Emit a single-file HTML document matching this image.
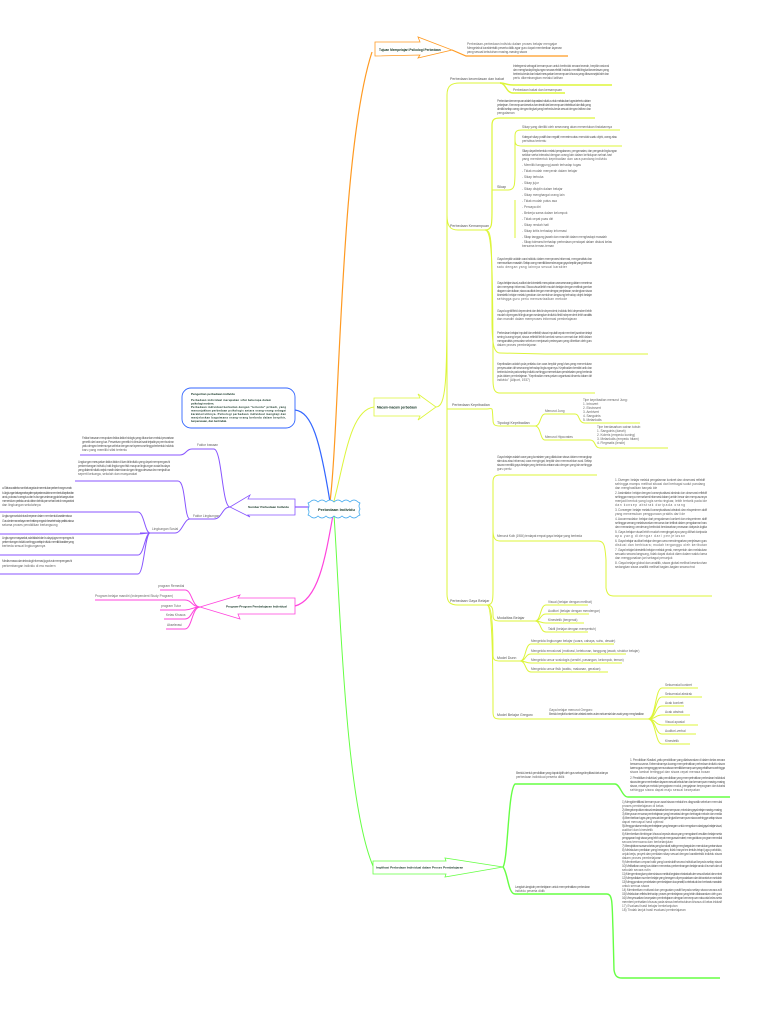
<!DOCTYPE html>
<html><head><meta charset="utf-8"><style>
html,body{margin:0;padding:0;background:#fff;width:768px;height:1024px;overflow:hidden}
svg{display:block}
text{font-family:"Liberation Sans",sans-serif}
.t{font-size:3.2px;fill:#666}
.l{font-size:3.6px;fill:#555}
.b{font-weight:bold;fill:#113322}
</style></head><body>
<svg width="768" height="1024" viewBox="0 0 768 1024" xmlns="http://www.w3.org/2000/svg" fill="none">
<!-- ORANGE -->
<g stroke="#ff9a22" stroke-width="1.2">
<path d="M330 502 C340 420 340 150 372 52"/>
<path d="M452 50 L466 56 L568 56"/>
</g>
<path d="M375 42 L420 42 L418 37 L452 50 L418 58 L420 55 L375 56 Z" fill="#fff" stroke="#ff9a22" stroke-width="0.8"/>
<text class="b" x="379" y="51" style="font-size:3.2px">Tujuan Mempelajari Psikologi Perbedaan</text>
<text class="t" x="467" y="45" textLength="90">Perbedaan-perbedaan individu dalam proses belajar mengajar</text>
<text class="t" x="467" y="49" textLength="95">Mengetahui karakteristik peserta didik agar guru dapat memberikan layanan</text>
<text class="t" x="467" y="53" textLength="60">yang sesuai kebutuhan masing-masing siswa</text>

<!-- YELLOW -->
<g stroke="#ddf53a" stroke-width="1">
<path d="M333 505 C345 460 350 410 374 407"/>
<path d="M436 407 C446 407 447 380 447 300 L447 95 C447 85 452 83 460 83 L500 83"/>
<path d="M500 83 C506 83 506 85 513 85 L612 85" stroke-width="1.4"/>
<path d="M500 83 C506 83 506 93 513 93 L565 93" stroke-width="1.4"/>
<path d="M447 300 L447 594 C447 602 450 605 458 605 L487 605"/>
<path d="M447 215 C447 226 450 230 458 230 L485 230"/>
<path d="M485 230 C492 230 492 225 492 210 L492 125 C492 119 495 118 500 118 L595 118" stroke-width="1.2"/>
<path d="M485 230 C492 230 492 240 492 320 C492 345 494 353 500 353 L545 354 L648 354"/>
<path d="M485 230 C492 230 493 260 493 380 C493 390 495 393 500 393 L595 393"/>
<path d="M492 190 L508 190 C515 190 515 185 515 170 L515 136 C515 131 517 130 522 130 L620 130"/>
<path d="M515 140 C515 145 517 146 522 146 L622 146"/>
<path d="M515 200 L515 238"/>
<path d="M447 409 L487 409"/>
<path d="M487 409 C493 409 492 405 493 420 C493 425 495 426 500 426 L535 426"/>
<path d="M535 426 C541 426 540 414 545 414 L575 414 C580 414 578 423 585 423 L640 423"/>
<path d="M535 426 C541 426 540 440 545 440 L590 440 C596 440 594 448 600 448 L668 448"/>
<path d="M487 605 C493 605 493 600 493 590 L493 482 C493 477 495 475 500 475 L597 475"/>
<path d="M493 530 C493 538 495 541 500 541 L598 541 C604 541 605 545 606 560 L606 588 C607 594 609 596 614 596 L712 596"/>
<path d="M487 605 C493 605 493 610 493 615 C493 620 495 621 500 621 L535 621"/>
<path d="M535 621 C541 621 540 605 546 605 L588 605 M535 621 C541 621 540 614 546 614 L589 614 M535 621 C541 621 540 623 546 623 L584 623 M535 621 C541 621 540 632 546 632 L588 632"/>
<path d="M487 605 C493 605 493 640 493 655 C493 660 495 661 500 661 L520 661"/>
<path d="M520 661 C526 661 525 644 531 644 L614 644 M520 661 C526 661 525 654 531 654 L626 654 M520 661 C526 661 525 663 531 663 L622 663 M520 661 C526 661 525 672 531 672 L608 672"/>
<path d="M487 605 C493 605 493 680 493 712 C493 718 495 719 500 719 L648 719"/>
<path d="M648 719 C656 719 655 688 662 688 L698 688 M648 719 C656 719 655 697 662 697 L702 697 M648 719 C656 719 655 706 662 706 L684 706 M648 719 C656 719 655 715 662 715 L690 715 M648 719 C656 719 655 725 662 725 L698 725 M648 719 C656 719 655 734 662 734 L696 734 M648 719 C656 719 655 744 662 744 L690 744"/>
</g>
<path d="M374 398 L420 398 L418 394 L436 407 L418 420 L420 416 L374 416 Z" fill="#fff" stroke="#ddf53a" stroke-width="0.8"/>
<text class="b" x="377" y="408.5" style="font-size:3.2px">Macam-macam perbedaan</text>
<text class="l" x="450" y="80">Perbedaan kecerdasan dan bakat</text>
<text class="t" x="513" y="67" textLength="96">Intelegensi sebagai kemampuan untuk bertindak secara terarah, berpikir rasional</text>
<text class="t" x="513" y="71" textLength="96">dan menghadapi lingkungan secara efektif. Individu memiliki tingkat kecerdasan yang</text>
<text class="t" x="513" y="75" textLength="96">berbeda-beda dan bakat merupakan kemampuan khusus yang dibawa sejak lahir dan</text>
<text class="t" x="513" y="79">perlu dikembangkan melalui latihan</text>
<text class="t" x="513" y="91">Perbedaan bakat dan kemampuan</text>
<text class="t" x="497" y="102" textLength="94">Perbedaan kemampuan adalah kapasitas individu untuk melakukan tugas tertentu dalam</text>
<text class="t" x="497" y="106" textLength="94">pekerjaan. Kemampuan keseluruhan terdiri dari kemampuan intelektual dan fisik yang</text>
<text class="t" x="497" y="110" textLength="94">dimiliki setiap orang dengan tingkat yang berbeda-beda sesuai dengan latihan dan</text>
<text class="t" x="497" y="114">pengalaman</text>
<text class="l" x="450" y="227">Perbedaan Kemampuan</text>
<text class="l" x="497" y="188">Sikap</text>
<text class="t" x="522" y="128" textLength="90">Sikap yang dimiliki oleh seseorang akan menentukan tindakannya</text>
<text class="t" x="522" y="138" textLength="95">Kategori sikap positif dan negatif; menerima atau menolak suatu objek, orang atau</text>
<text class="t" x="522" y="142">peristiwa tertentu</text>
<g class="t">
<text x="522" y="152" textLength="95">Sikap dapat terbentuk melalui pengalaman, pengamatan, dan pengaruh lingkungan</text>
<text x="522" y="156" textLength="90">sekitar serta interaksi dengan orang lain dalam kehidupan sehari-hari</text>
<text x="522" y="160" textLength="85">yang membentuk kepribadian dan cara pandang individu</text>
<text x="522" y="166">- Memiliki tanggung jawab terhadap tugas</text>
<text x="522" y="172">- Tidak mudah menyerah dalam belajar</text>
<text x="522" y="178">- Sikap terbuka</text>
<text x="522" y="184">- Sikap jujur</text>
<text x="522" y="190">- Sikap disiplin dalam belajar</text>
<text x="522" y="196">- Sikap menghargai orang lain</text>
<text x="522" y="202">- Tidak mudah putus asa</text>
<text x="522" y="208">- Percaya diri</text>
<text x="522" y="214">- Bekerja sama dalam kelompok</text>
<text x="522" y="220">- Tidak cepat puas diri</text>
<text x="522" y="226">- Sikap rendah hati</text>
<text x="522" y="232">- Sikap kritis terhadap informasi</text>
<text x="522" y="238" textLength="85">- Sikap tanggung jawab dan mandiri dalam menghadapi masalah</text>
<text x="522" y="243" textLength="90">- Sikap toleransi terhadap perbedaan pendapat dalam diskusi kelas</text>
<text x="522" y="247">bersama teman-teman</text>
</g>
<g class="t">
<text x="497" y="260" textLength="95">Gaya berpikir adalah cara individu dalam memproses informasi, menganalisis dan</text>
<text x="497" y="264" textLength="95">memecahkan masalah. Setiap orang memiliki kecenderungan gaya berpikir yang berbeda</text>
<text x="497" y="268" textLength="70">satu dengan yang lainnya sesuai karakter</text>
<text x="497" y="284" textLength="95">Gaya belajar visual, auditori dan kinestetik merupakan cara seseorang dalam menerima</text>
<text x="497" y="288" textLength="95">dan menyerap informasi. Siswa visual lebih mudah belajar dengan melihat gambar</text>
<text x="497" y="292" textLength="95">diagram dan tulisan; siswa auditori dengan mendengar penjelasan; sedangkan siswa</text>
<text x="497" y="296" textLength="95">kinestetik belajar melalui gerakan dan sentuhan langsung terhadap objek belajar</text>
<text x="497" y="300" textLength="70">sehingga guru perlu memvariasikan metode</text>
<text x="497" y="312" textLength="95">Gaya kognitif field dependent dan field independent; individu field dependent lebih</text>
<text x="497" y="316" textLength="95">mudah dipengaruhi lingkungan sedangkan individu field independent lebih analitis</text>
<text x="497" y="320" textLength="80">dan mandiri dalam memproses informasi pembelajaran</text>
<text x="497" y="334" textLength="95">Perbedaan belajar impulsif dan reflektif; siswa impulsif cepat memberi jawaban tetapi</text>
<text x="497" y="338" textLength="95">sering kurang tepat, siswa reflektif lebih lambat namun cermat dan teliti dalam</text>
<text x="497" y="342" textLength="95">menganalisis persoalan sebelum menjawab pertanyaan yang diberikan oleh guru</text>
<text x="497" y="346">dalam proses pembelajaran</text>
<text x="497" y="365" textLength="95">Kepribadian adalah pola perilaku dan cara berpikir yang khas yang menentukan</text>
<text x="497" y="369" textLength="95">penyesuaian diri seseorang terhadap lingkungannya. Kepribadian bersifat unik dan</text>
<text x="497" y="373" textLength="95">berbeda-beda pada setiap individu sehingga memerlukan pendekatan yang berbeda</text>
<text x="497" y="377" textLength="95">pula dalam pembelajaran. "Kepribadian merupakan organisasi dinamis dalam diri</text>
<text x="497" y="381">individu" (Allport, 1937)</text>
</g>
<text class="l" x="452" y="406">Perbedaan Kepribadian</text>
<text class="l" x="497" y="424">Tipologi Kepribadian</text>
<text class="t" x="545" y="412">Menurut Jung</text>
<text class="t" x="545" y="438">Menurut Hipocrates</text>
<g class="t">
<text x="583" y="401">Tipe kepribadian menurut Jung:</text>
<text x="583" y="405">1. Introvert</text><text x="583" y="409">2. Ekstrovert</text>
<text x="583" y="413">3. Ambivert</text><text x="583" y="417">4. Sanguinis</text><text x="583" y="421">5. Melankolis</text>
<text x="597" y="428">Tipe berdasarkan cairan tubuh:</text>
<text x="597" y="432">1. Sanguinis (darah)</text><text x="597" y="436">2. Koleris (empedu kuning)</text>
<text x="597" y="440">3. Melankolis (empedu hitam)</text><text x="597" y="444">4. Flegmatis (lendir)</text>
</g>
<g class="t">
<text x="497" y="458" textLength="95">Gaya belajar adalah cara yang konsisten yang dilakukan siswa dalam menangkap</text>
<text x="497" y="462" textLength="95">stimulus atau informasi, cara mengingat, berpikir dan memecahkan soal. Setiap</text>
<text x="497" y="466" textLength="95">siswa memiliki gaya belajar yang berbeda antara satu dengan yang lain sehingga</text>
<text x="497" y="470">guru perlu</text>
<text x="497" y="537" textLength="85">Menurut Kolb (1984) terdapat empat gaya belajar yang berbeda</text>
</g>
<g class="t">
<text x="615" y="481" textLength="90">1. Diverger: belajar melalui pengalaman konkret dan observasi reflektif</text>
<text x="615" y="485" textLength="90">sehingga mampu melihat situasi dari berbagai sudut pandang</text>
<text x="615" y="489">dan menghasilkan banyak ide</text>
<text x="615" y="494" textLength="92">2. Assimilator: belajar dengan konseptualisasi abstrak dan observasi reflektif</text>
<text x="615" y="498" textLength="92">sehingga mampu memahami informasi dalam jumlah besar dan menyusunnya</text>
<text x="615" y="502" textLength="92">menjadi bentuk yang logis serta ringkas; lebih tertarik pada ide</text>
<text x="615" y="506" textLength="70">dan konsep abstrak daripada orang</text>
<text x="615" y="511" textLength="92">3. Converger: belajar melalui konseptualisasi abstrak dan eksperimen aktif</text>
<text x="615" y="515" textLength="70">yang menemukan penggunaan praktis dari ide</text>
<text x="615" y="520" textLength="92">4. Accommodator: belajar dari pengalaman konkret dan eksperimen aktif</text>
<text x="615" y="524" textLength="92">sehingga senang melaksanakan rencana dan terlibat dalam pengalaman baru</text>
<text x="615" y="528" textLength="92">dan menantang; cenderung bertindak berdasarkan perasaan daripada logika</text>
<text x="615" y="533" textLength="92">5. Gaya belajar visual lebih mudah mengingat apa yang dilihat daripada</text>
<text x="615" y="537" textLength="70">apa yang didengar dari penjelasan</text>
<text x="615" y="542" textLength="92">6. Gaya belajar auditori belajar dengan cara mendengarkan penjelasan guru</text>
<text x="615" y="546" textLength="92">diskusi dan berbicara; mudah terganggu oleh keributan</text>
<text x="615" y="551" textLength="92">7. Gaya belajar kinestetik belajar melalui gerak, menyentuh dan melakukan</text>
<text x="615" y="555" textLength="92">sesuatu secara langsung, tidak dapat duduk diam dalam waktu lama</text>
<text x="615" y="559">dan menggunakan jari sebagai penunjuk</text>
<text x="615" y="564" textLength="92">8. Gaya belajar global dan analitik, siswa global melihat keseluruhan</text>
<text x="615" y="568" textLength="80">sedangkan siswa analitik melihat bagian-bagian secara rinci</text>
</g>
<text class="l" x="450" y="602">Perbedaan Gaya Belajar</text>
<text class="l" x="497" y="619">Modalitas Belajar</text>
<text class="t" x="548" y="603">Visual (belajar dengan melihat)</text>
<text class="t" x="548" y="612">Auditori (belajar dengan mendengar)</text>
<text class="t" x="548" y="621">Kinestetik (bergerak)</text>
<text class="t" x="548" y="630">Taktil (belajar dengan menyentuh)</text>
<text class="l" x="497" y="659">Model Dunn</text>
<text class="t" x="531" y="642">Mengelola lingkungan belajar (suara, cahaya, suhu, desain)</text>
<text class="t" x="531" y="652">Mengelola emosional (motivasi, ketekunan, tanggung jawab, struktur belajar)</text>
<text class="t" x="531" y="661">Mengelola unsur sosiologis (sendiri, pasangan, kelompok, teman)</text>
<text class="t" x="531" y="670">Mengelola unsur fisik (waktu, makanan, gerakan)</text>
<text class="l" x="497" y="716">Model Belajar Gregorc</text>
<text class="t" x="549" y="711">Gaya belajar menurut Gregorc:</text>
<text class="t" x="549" y="715" textLength="95">Bentuk berpikir konkret dan abstrak serta urutan sekuensial dan acak yang menghasilkan</text>
<g class="t">
<text x="665" y="686">Sekuensial konkret</text><text x="665" y="695">Sekuensial abstrak</text>
<text x="665" y="704">Acak konkret</text><text x="665" y="713">Acak abstrak</text>
<text x="665" y="723">Visual-spasial</text><text x="665" y="732">Auditori-verbal</text><text x="665" y="742">Kinestetik</text>
</g>

<!-- GREEN -->
<g stroke="#66ff44" stroke-width="1">
<path d="M334 515 C340 600 345 800 373 866"/>
<path d="M503 867 C508 860 508 790 515 784 L615 784 C620 784 622 797 628 797 L730 797" stroke-width="1.4"/>
<path d="M503 867 C508 873 508 894 515 894 L607 894 C613 894 612 905 613 930 L614 970 C615 976 617 978 622 978 L720 978" stroke-width="1.4"/>
</g>
<path d="M373 861 L446 861 L445 858 L503 867 L445 877 L446 874 L373 874 Z" fill="#fff" stroke="#66ff44" stroke-width="0.8"/>
<text class="b" x="376" y="868.5" style="font-size:3.1px">Implikasi Perbedaan Individual dalam Proses Pembelajaran</text>
<text class="t" x="516" y="774" textLength="92">Bentuk-bentuk pendidikan yang dapat dipilih oleh guru sebagai implikasi dari adanya</text>
<text class="t" x="516" y="778">perbedaan individual peserta didik</text>
<text class="t" x="515" y="888" textLength="75">Langkah-langkah pembelajaran untuk memperhatikan perbedaan</text>
<text class="t" x="515" y="892">individu peserta didik</text>
<g class="t">
<text x="630" y="761" textLength="95">1. Pendidikan Klasikal, yaitu pendidikan yang dilaksanakan di dalam kelas secara</text>
<text x="630" y="765" textLength="95">bersama-sama. Kelemahannya kurang memperhatikan perbedaan individu siswa</text>
<text x="630" y="769" textLength="95">karena guru menganggap semua siswa memiliki kemampuan yang relatif sama sehingga</text>
<text x="630" y="773" textLength="80">siswa lambat tertinggal dan siswa cepat merasa bosan</text>
<text x="630" y="779" textLength="95">2. Pendidikan Individual, yaitu pendidikan yang memperhatikan perbedaan individual</text>
<text x="630" y="783" textLength="95">siswa dengan memberikan layanan sesuai kebutuhan dan kemampuan masing-masing</text>
<text x="630" y="787" textLength="95">siswa, misalnya melalui pengajaran modul, pengajaran berprogram dan tutorial</text>
<text x="630" y="791" textLength="70">sehingga siswa dapat maju sesuai kecepatan</text>
</g>
<g class="t">
<text x="622" y="803" textLength="100">1) Mengidentifikasi kemampuan awal siswa melalui tes diagnostik sebelum memulai</text>
<text x="622" y="807">proses pembelajaran di kelas</text>
<text x="622" y="811" textLength="100">2) Mengelompokkan siswa berdasarkan kemampuan, minat dan gaya belajar masing-masing</text>
<text x="622" y="815" textLength="100">3) Menyusun rencana pembelajaran yang bervariasi dengan berbagai metode dan media</text>
<text x="622" y="819" textLength="100">4) Memberikan tugas yang sesuai dengan tingkat kemampuan siswa sehingga setiap siswa</text>
<text x="622" y="823">dapat mencapai hasil optimal</text>
<text x="622" y="827" textLength="100">5) Menggunakan media pembelajaran yang beragam untuk mengakomodasi gaya belajar visual,</text>
<text x="622" y="831">auditori dan kinestetik</text>
<text x="622" y="835" textLength="100">6) Memberikan bimbingan khusus kepada siswa yang mengalami kesulitan belajar serta</text>
<text x="622" y="839" textLength="100">pengayaan bagi siswa yang lebih cepat menguasai materi; mengadakan program remedial</text>
<text x="622" y="843">secara terencana dan berkelanjutan</text>
<text x="622" y="847" textLength="100">7) Menciptakan suasana kelas yang kondusif, saling menghargai dan mendukung antar siswa</text>
<text x="622" y="851" textLength="100">8) Melakukan penilaian yang beragam, tidak hanya tes tertulis tetapi juga portofolio,</text>
<text x="622" y="855" textLength="100">unjuk kerja, proyek dan penilaian sikap sesuai dengan karakteristik individu siswa</text>
<text x="622" y="859">dalam proses pembelajaran</text>
<text x="622" y="863" textLength="100">9) Memberikan umpan balik yang konstruktif secara individual kepada setiap siswa</text>
<text x="622" y="867" textLength="100">10) Melibatkan orang tua dalam memantau perkembangan belajar anak di rumah dan di</text>
<text x="622" y="871">sekolah secara rutin</text>
<text x="622" y="875" textLength="100">11) Mengembangkan potensi siswa melalui kegiatan ekstrakurikuler sesuai bakat dan minat</text>
<text x="622" y="879" textLength="100">12) Menyediakan sumber belajar yang beragam di perpustakaan dan laboratorium sekolah</text>
<text x="622" y="883" textLength="100">13) Menggunakan pendekatan pembelajaran kooperatif, kontekstual dan berbasis masalah</text>
<text x="622" y="887">untuk semua siswa</text>
<text x="622" y="891" textLength="100">14) Memberikan motivasi dan penguatan positif kepada setiap siswa secara adil</text>
<text x="622" y="895" textLength="100">15) Melakukan refleksi terhadap proses pembelajaran yang telah dilaksanakan oleh guru</text>
<text x="622" y="899" textLength="100">16) Menyesuaikan kecepatan pembelajaran dengan kemampuan rata-rata kelas serta</text>
<text x="622" y="903" textLength="100">memberi perhatian khusus pada siswa berkebutuhan khusus di kelas inklusif</text>
<text x="622" y="907">17) Evaluasi hasil belajar berkelanjutan</text>
<text x="622" y="911">18) Tindak lanjut hasil evaluasi pembelajaran</text>
</g>

<!-- BLUE -->
<path d="M295 410 C312 412 320 440 330 502" stroke="#3366ff" stroke-width="1.2"/>
<rect x="182" y="388" width="113" height="40" rx="9" fill="#fff" stroke="#3366ff" stroke-width="0.9"/>
<text class="b" x="191" y="395" style="font-size:3px">Pengertian perbedaan individu</text>
<g class="b" style="font-size:2.7px">
<text x="191" y="401" textLength="80">Perbedaan individual merupakan sifat beberapa dalam</text>
<text x="191" y="404.5">psikologi modern.</text>
<text x="191" y="408" textLength="95">Perbedaan individual berkaitan dengan "tertentu" pribadi, yang</text>
<text x="191" y="411.5" textLength="95">menunjukkan perbedaan psikologis antara orang-orang sebagai</text>
<text x="191" y="415" textLength="95">karakteristiknya. Psikologi perbedaan individual mengkaji dan</text>
<text x="191" y="418.5" textLength="95">menjelaskan bagaimana orang-orang berbeda dalam berpikir,</text>
<text x="191" y="422">berperasaan, dan bertindak.</text>
</g>

<!-- PURPLE -->
<g stroke="#8855ff" stroke-width="1">
<path d="M295 507 L310 507" stroke-width="1.2"/>
<path d="M230 507 C222 507 222 450 214 449 L192 449 C186 449 186 455 180 455 L80 455"/>
<path d="M230 507 C222 507 222 519 214 519 L190 519"/>
<path d="M190 519 C184 519 186 481 178 481 L75 481"/>
<path d="M190 519 C184 519 182 533 175 533 L140 533"/>
<path d="M150 533 C145 533 144 512 138 512 L0 512"/>
<path d="M150 533 C145 533 145 534 138 534 L0 534"/>
<path d="M150 533 C145 533 144 555 138 555 L0 555"/>
<path d="M150 533 C145 533 144 574 138 574 L0 574"/>
</g>
<path d="M295 499 L248 499 L250 495 L230 507 L250 517 L248 515 L295 515 Z" fill="#fff" stroke="#8855ff" stroke-width="0.8"/>
<text class="b" x="248" y="508" style="font-size:3.1px">Sumber Perbedaan Individu</text>
<text class="t" x="197" y="446">Faktor bawaan</text>
<text class="t" x="193" y="517">Faktor Lingkungan</text>
<text class="t" x="152" y="530">Lingkungan Sosial</text>
<g class="t">
<text x="82" y="439" textLength="92">Faktor bawaan merupakan faktor-faktor biologis yang diturunkan melalui pewarisan</text>
<text x="82" y="443" textLength="92">genetik dari orang tua. Pewarisan genetik ini dimulai saat terjadinya pembuahan</text>
<text x="82" y="447" textLength="92">yaitu dengan bertemunya sel telur dengan sel sperma sehingga terbentuk individu</text>
<text x="82" y="451">baru yang memiliki sifat tertentu</text>
<text x="78" y="463" textLength="92">Lingkungan merupakan faktor-faktor di luar diri individu yang dapat mempengaruhi</text>
<text x="78" y="467" textLength="92">perkembangan individu, baik lingkungan fisik maupun lingkungan sosial budaya</text>
<text x="78" y="471" textLength="92">yang dialami individu sejak masih dalam kandungan hingga dewasa dan menjadi tua</text>
<text x="78" y="475">seperti keluarga, sekolah dan masyarakat</text>
<text x="2" y="489" textLength="70">a. Status sosial ekonomi keluarga turut menentukan perkembangan anak</text>
<text x="2" y="494" textLength="72">b. Lingkungan keluarga sebagai tempat pertama dalam membentuk kepribadian</text>
<text x="2" y="498" textLength="72">anak, pola asuh orang tua dan hubungan antar anggota keluarga akan</text>
<text x="2" y="502" textLength="72">menentukan perilaku anak dalam kehidupan sehari-hari di masyarakat</text>
<text x="2" y="506">dan lingkungan sekolahnya</text>
<text x="2" y="517" textLength="70">Lingkungan sekolah turut berperan dalam membentuk karakter siswa</text>
<text x="2" y="522" textLength="72">Guru dan teman sebaya memberikan pengaruh besar terhadap perilaku siswa</text>
<text x="2" y="526">selama proses pendidikan berlangsung</text>
<text x="2" y="539" textLength="72">Lingkungan masyarakat, adat istiadat dan budaya juga mempengaruhi</text>
<text x="2" y="543" textLength="72">perkembangan individu sehingga setiap individu memiliki karakter yang</text>
<text x="2" y="547">berbeda sesuai lingkungannya</text>
<text x="2" y="562" textLength="70">Media massa dan teknologi informasi juga turut mempengaruhi</text>
<text x="2" y="567">perkembangan individu di era modern</text>
</g>

<!-- MAGENTA -->
<g stroke="#ff44dd" stroke-width="1">
<path d="M295 606 C318 600 325 560 333 515" stroke-width="1.2"/>
<path d="M200 607 C192 607 192 590 185 590 L160 590"/>
<path d="M200 607 C192 607 192 600 185 600 L95 600"/>
<path d="M200 607 C192 607 192 610 185 610 L160 610"/>
<path d="M200 607 C192 607 192 619 185 619 L164 619"/>
<path d="M200 607 C192 607 192 629 185 629 L166 629"/>
</g>
<path d="M295 598 L238 598 L240 595 L200 607 L240 619 L238 614 L295 614 Z" fill="#fff" stroke="#ff44dd" stroke-width="0.8"/>
<text class="b" x="226" y="607.5" style="font-size:3px">Program-Program Pembelajaran Individual</text>
<g class="t">
<text x="158" y="587">program Remedial</text>
<text x="95" y="597" textLength="78">Program belajar mandiri (Independent Study Program)</text>
<text x="161" y="607">program Tutor</text>
<text x="166" y="616">Kelas Khusus</text>
<text x="167" y="626">Akselerasi</text>
</g>

<!-- CENTER -->
<path d="M310 502 q4 -4 8 0 q4 -4 8 0 q4 -4 8 0 q4 -4 8 0 q4 -4 8 0 q4 -4 8 0 l2 1 q-2 3 0 6 q-2 3 0 6 l-2 1 q-4 4 -8 0 q-4 4 -8 0 q-4 4 -8 0 q-4 4 -8 0 q-4 4 -8 0 q-4 4 -8 0 l-2 -1 q2 -3 0 -6 q2 -3 0 -6 Z" fill="#fff" stroke="#44aaee" stroke-width="0.8"/>
<text class="b" x="318" y="511" style="font-size:4px">Perbedaan Individu</text>
</svg>
</body></html>
